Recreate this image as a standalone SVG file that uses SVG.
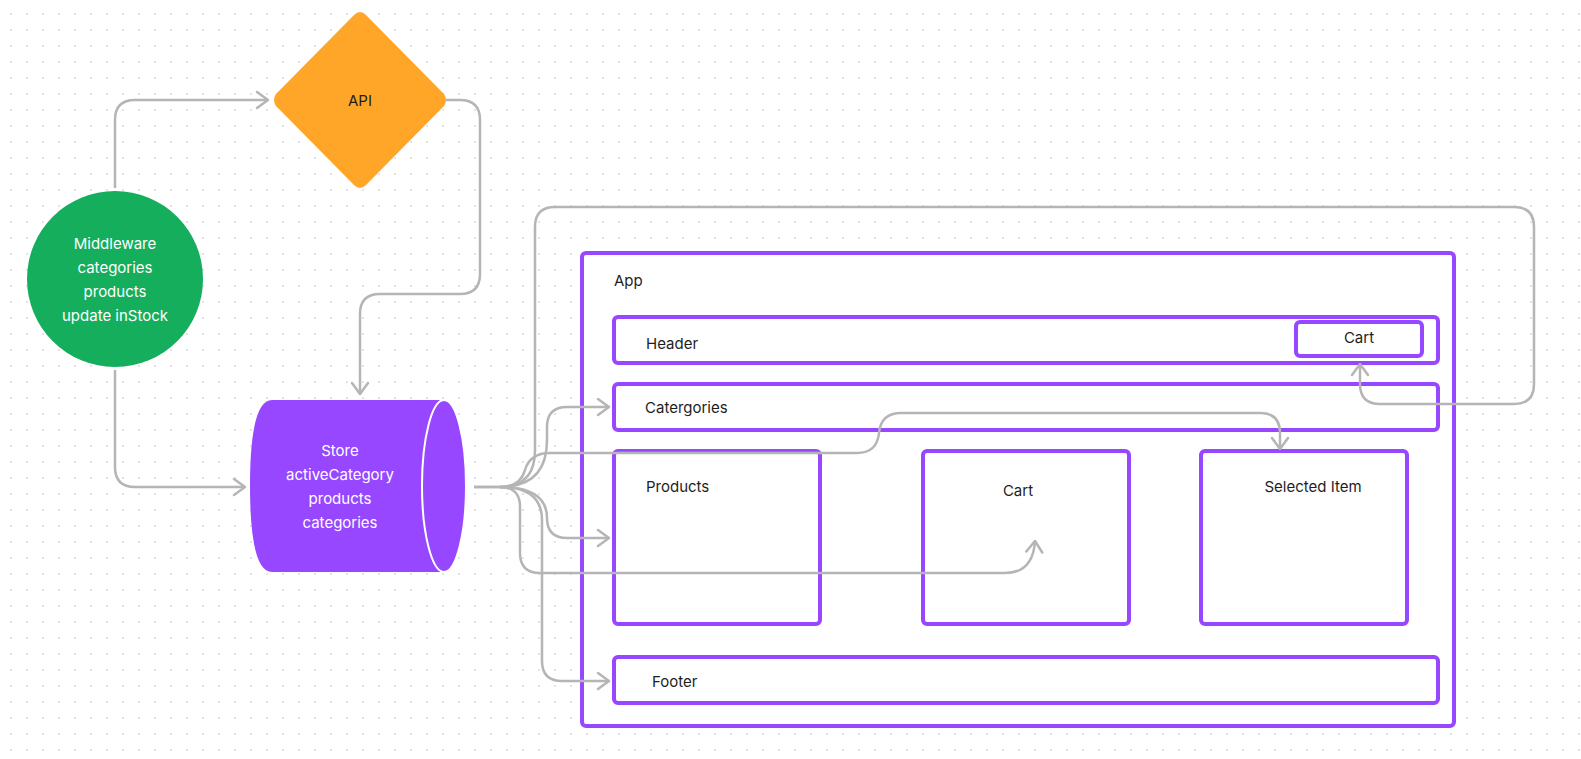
<svg xmlns="http://www.w3.org/2000/svg" width="1581" height="759" viewBox="0 0 1581 759">
<defs>
<pattern id="dots" x="10" y="13" width="16" height="16" patternUnits="userSpaceOnUse"><rect width="2" height="2" fill="#e3e3e3"/></pattern>
<marker id="ah" viewBox="0 0 20 20" refX="16" refY="10" markerWidth="20" markerHeight="20" markerUnits="userSpaceOnUse" orient="auto"><path d="M5 2 L16 10 L5 18" fill="none" stroke="#b5b5b5" stroke-width="2.5" stroke-linecap="round" stroke-linejoin="round"/></marker>
<style>
.c{fill:none;stroke:#b5b5b5;stroke-width:2.5;}
.b{fill:#fff;stroke:#9747ff;stroke-width:4;}
.t{font-family:Inter,"Liberation Sans",sans-serif;font-size:15px;fill:#1e1e1e;}
.w{font-family:Inter,"Liberation Sans",sans-serif;font-size:15px;fill:#fff;text-anchor:middle;}
</style>
</defs>
<rect width="1581" height="759" fill="#fff"/>
<rect width="1581" height="759" fill="url(#dots)"/>
<g id="app"><rect class="b" x="582" y="253" width="872" height="473" rx="4"/><text class="t" x="614" y="286">App</text></g>
<g id="header"><rect class="b" x="614" y="317" width="824" height="46" rx="4"/><text class="t" x="646" y="349">Header</text></g>
<g id="headerCart"><rect class="b" x="1296" y="322" width="126" height="34" rx="4"/><text class="t" x="1359" y="343" text-anchor="middle">Cart</text></g>
<g id="categories"><rect class="b" x="614" y="384" width="824" height="46" rx="4"/><text class="t" x="645" y="413">Catergories</text></g>
<g id="products"><rect class="b" x="614" y="451" width="206" height="173" rx="4"/><text class="t" x="646" y="492">Products</text></g>
<g id="cart"><rect class="b" x="923" y="451" width="206" height="173" rx="4"/><text class="t" x="1018" y="496" text-anchor="middle">Cart</text></g>
<g id="selected"><rect class="b" x="1201" y="451" width="206" height="173" rx="4"/><text class="t" x="1313" y="492" text-anchor="middle">Selected Item</text></g>
<g id="footer"><rect class="b" x="614" y="657" width="824" height="46" rx="4"/><text class="t" x="652" y="687">Footer</text></g>
<g id="connectors">
<path class="c" d="M115 188 V120 Q115 100 135 100 H268" marker-end="url(#ah)"/>
<path class="c" d="M446 100 H460 Q480 100 480 120 V274 Q480 294 460 294 H380 Q360 294 360 314 V394" marker-end="url(#ah)"/>
<path class="c" d="M115 370 V467 Q115 487 135 487 H245" marker-end="url(#ah)"/>
<path class="c" d="M474 487 H500 Q547 487 547 440 V427 Q547 407 567 407 H609" marker-end="url(#ah)"/>
<path class="c" d="M474 487 H500 Q547 487 547 518 Q547 538 567 538 H609" marker-end="url(#ah)"/>
<path class="c" d="M500 487 Q542 487 542 520 V661 Q542 681 562 681 H609" marker-end="url(#ah)"/>
<path class="c" d="M500 487 Q535 487 535 450 V227 Q535 207 555 207 H1514 Q1534 207 1534 227 V384 Q1534 404 1514 404 H1380 Q1360 404 1360 384 V364" marker-end="url(#ah)"/>
<path class="c" d="M500 487 Q520 487 525 470 Q530 453 550 453 H857 Q877 453 879 433 Q881 413 901 413 H1260 Q1280 413 1280 433 V449" marker-end="url(#ah)"/>
<path class="c" d="M500 487 Q520 487 520 507 V553 Q520 573 540 573 H1005 Q1033 573 1035 541" marker-end="url(#ah)"/>
</g>
<g id="api"><path d="M360 12 Q363 12 366 15 L444 94 Q448 100 444 106 L366 185 Q360 191 354 185 L276 106 Q272 100 276 94 L354 15 Q357 12 360 12Z" fill="#ffa629"/><text class="t" x="360" y="106" text-anchor="middle">API</text></g>
<g id="middleware"><circle cx="115" cy="279" r="88" fill="#14ae5c"/><text class="w" x="115" y="249">Middleware</text><text class="w" x="115" y="273">categories</text><text class="w" x="115" y="297">products</text><text class="w" x="115" y="321">update inStock</text></g>
<g id="store"><path d="M272 400 H444 V572 H272 Q250 572 250 486 Q250 400 272 400Z" fill="#9747ff"/><ellipse cx="444" cy="486" rx="22" ry="86" fill="#9747ff" stroke="#fff" stroke-width="2"/><text class="w" x="340" y="456">Store</text><text class="w" x="340" y="480">activeCategory</text><text class="w" x="340" y="504">products</text><text class="w" x="340" y="528">categories</text></g>
</svg>
